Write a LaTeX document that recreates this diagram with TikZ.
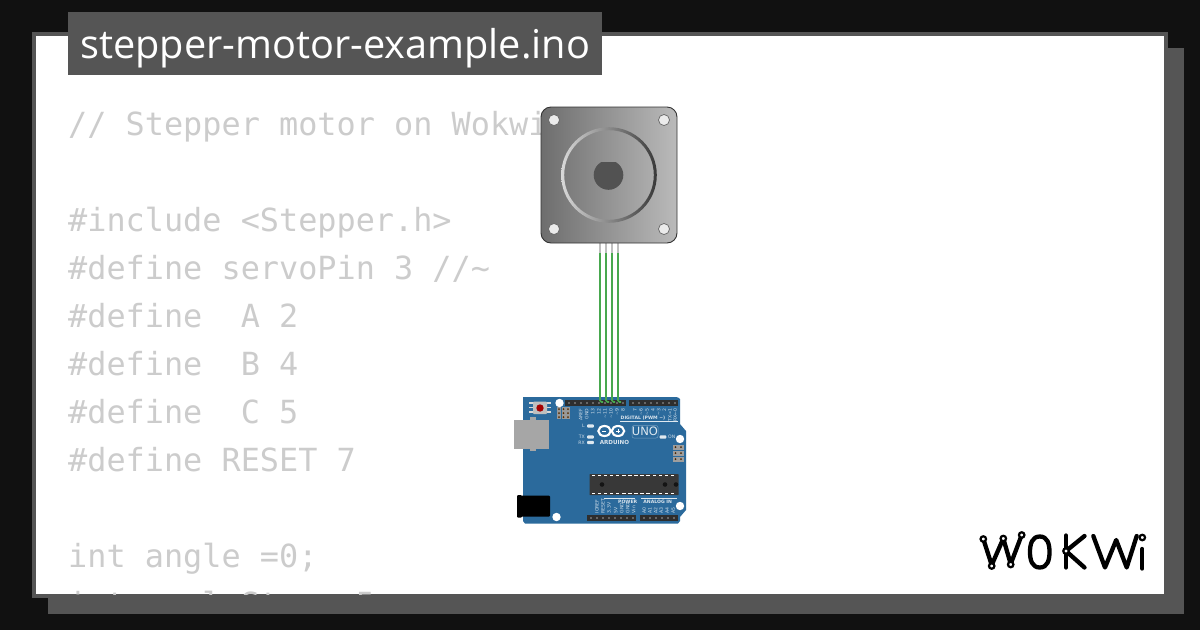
\documentclass[tikz,border=0pt]{standalone}
\usepackage{fontspec}
\setmainfont{Open Sans}
\newfontfamily\codefont{DejaVu Sans Mono}
\newfontfamily\tinyfont{DejaVu Sans}
\definecolor{bgdark}{HTML}{111111}
\definecolor{framegrey}{HTML}{555555}
\definecolor{codegrey}{HTML}{CCCCCC}
\definecolor{boardblue}{HTML}{2B6A9C}
\definecolor{hdr}{HTML}{2E2E2E}
\definecolor{wiregreen}{HTML}{48A84E}
\tikzset{
  codeline/.style={anchor=base west,inner sep=0pt,text=codegrey,font=\codefont\fontsize{31.85}{32}\selectfont},
  silk/.style={inner sep=0pt,text=white!78!boardblue,font=\tinyfont\fontsize{4.6}{5}\selectfont},
  silkb/.style={inner sep=0pt,text=white!82!boardblue,font=\tinyfont\bfseries\fontsize{4.6}{5}\selectfont},
  hole/.style={fill=white,draw=none},
  motorhole/.style={fill=white!92!black,draw=black!60,line width=.7pt},
  wirepath/.style={draw=wiregreen,line width=1.7pt},
  logostroke/.style={draw=black,line width=4.3pt,line cap=round,line join=round},
  logoring/.style={draw=black,fill=white,line width=2.2pt},
  led/.style={fill=white!85!boardblue,rounded corners=.8pt},
}
\begin{document}
\begin{tikzpicture}[x=1pt,y=-1pt]
\useasboundingbox (0,0) rectangle (1200,630);
\fill[bgdark] (0,0) rectangle (1200,630);
\fill[framegrey] (48,48) rectangle (1184,614);
\fill[framegrey] (32,32) rectangle (1168,598);
\fill[white] (36,36) rectangle (1164,594);
% code, clipped by the white sheet
\begin{scope}
\clip (36,36) rectangle (1164,594);
\node[codeline] (c1) at (68,135) {// Stepper motor on Wokwi};
\node[codeline] (c3) at (68,231) {\#include <Stepper.h>};
\node[codeline] (c4) at (68,279) {\#define servoPin 3 //\char`\~};
\node[codeline] (c5) at (68,327) {\#define\ \ A 2};
\node[codeline] (c6) at (68,375) {\#define\ \ B 4};
\node[codeline] (c7) at (68,423) {\#define\ \ C 5};
\node[codeline] (c8) at (68,471) {\#define RESET 7};
\node[codeline] (c10) at (68,567) {int angle =0;};
\node[codeline] (c11) at (68,615) {int angleStep =5;};
\end{scope}
% title
\fill[framegrey] (68,12) rectangle (602,75);
\node[anchor=base west,inner sep=0pt,text=white,font=\fontsize{39.7}{40}\selectfont] (title) at (80,58) {stepper-motor-example.ino};

% motor pins and wires
\foreach \n/\x in {a/600,b/606,c/612,d/618}{
  \coordinate (m\n) at (\x,253);
  \coordinate (p\n) at (\x+3,402);
  \fill[black!25] (\x-1.4,243) rectangle (\x+1.4,254);
}
\foreach \n in {a,b,c,d}{
  \draw[wirepath,rounded corners=1.5pt] (m\n) |- (p\n);
}
% motor
\draw[draw=black!80,line width=.9pt,left color=black!57,right color=black!27,rounded corners=10pt] (541,107) rectangle (677,243);
\foreach \n/\x/\y in {h1/554/120,h2/664/120,h3/554/229,h4/664/229}{
  \node[circle,motorhole,minimum size=11pt,inner sep=0pt] (\n) at (\x,\y) {};
}
\shade[even odd rule,left color=black!15,middle color=black!45,right color=black!78] (609,175) circle (47.8) (609,175) circle (44.8);
\begin{scope}
\clip (590,162) rectangle (630,195);
\fill[black!68] (608.5,175) circle (14.8);
\end{scope}

% board
\fill[boardblue,rounded corners=1.5pt] (523,397) -- (678,397) [sharp corners] -- (680,399) -- (680,424) -- (686,431) -- (686,510) -- (680,517) -- (680,521) -- (678,523.5) -- (525,523.5) -- (523,521) -- cycle;
% USB and barrel
\fill[black!35] (530,417) rectangle (536,451);
\fill[black!35] (514,419.5) rectangle (548.5,448.5);
\fill[black,rounded corners=1pt] (521,495.5) rectangle (550,516.5);
\fill[black,rounded corners=1pt] (517,495) rectangle (522,517.5);
% reset button
\foreach \y in {403,407.5,412}{ \fill[black!15] (528.5,\y-.7) rectangle (534,\y+.7); \fill[black!15] (546,\y-.7) rectangle (551,\y+.7);}
\fill[black!25,rounded corners=1pt] (533,401.5) rectangle (547,414);
\fill[red!65!black] (540,408) circle (3.7);
% ICSP blocks
\foreach \x in {559,563.5,568}\foreach \y in {409,413,417}{
  \fill[black!40] (\x-2,\y-2) rectangle (\x+2,\y+2);
  \fill[black!65!orange] (\x,\y) circle (1);
}
\foreach \x in {675.5,681}\foreach \y in {447,453,459}{
  \fill[black!38] (\x-2.7,\y-2.5) rectangle (\x+2.7,\y+2.5);
  \fill[black!70!orange] (\x,\y) circle (1);
}
% holes
\foreach \n/\x/\y in {b1/559.5/403,b2/680/439,b3/680/506,b4/556.5/517}{
  \node[circle,hole,minimum size=8.4pt,inner sep=0pt] (\n) at (\x,\y) {};
}
% headers
\fill[hdr] (565,400) rectangle (626,406);
\fill[hdr] (629,400) rectangle (678,406);
\fill[hdr] (587,515) rectangle (636,521);
\fill[hdr] (640,515) rectangle (678,521);
\foreach \k in {0,...,9}{\fill[black!60] (568.5+6.05*\k-1,402) rectangle (568.5+6.05*\k+1,404);}
\foreach \k in {0,...,7}{\fill[black!60] (632.5+6.05*\k-1,402) rectangle (632.5+6.05*\k+1,404);}
\foreach \k in {0,...,7}{\fill[black!60] (590.5+6.05*\k-1,517) rectangle (590.5+6.05*\k+1,519);}
\foreach \k in {0,...,5}{\fill[black!60] (643.5+6.05*\k-1,517) rectangle (643.5+6.05*\k+1,519);}
% wires over the header
\foreach \n in {a,b,c,d}{ \draw[wirepath,rounded corners=1.5pt] (m\n |- 0,392) |- (p\n); }
% digital labels
\foreach \n/\x/\t in {d0/580.7/AREF,d1/586.7/GND,d2/592.7/13,d3/599/12,d4/605/\char`\~11,d5/611/\char`\~10,d6/617/\char`\~9,d7/623/8,d8/635/7,d9/641/\char`\~6,d10/647/\char`\~5,d11/653/4,d12/658.7/\char`\~3,d13/664.3/2,d14/670/TX→1,d15/675.3/RX←0}{
  \node[silk,rotate=90,anchor=east] (\n) at (\x,408.5) {\t};
}
\node[silkb,anchor=center] (digi) at (643,418.4) {DIGITAL (PWM \char`\~)};
\fill[white!85!boardblue] (620,421.2) rectangle (678,421.9);
% LEDs
\foreach \n/\x/\y in {l1/590.5/426,l2/590.5/437,l3/590.5/442.5,l4/663/437}{
  \fill[led] (\x-3.4,\y-1.6) rectangle (\x+3.4,\y+1.6);
}
\node[silk,anchor=east] (ll) at (585,426) {L};
\node[silk,anchor=east] (ltx) at (585,437) {TX};
\node[silk,anchor=east] (lrx) at (585,442.5) {RX};
\node[silk,anchor=west] (lon) at (668,437) {ON};
% Arduino logo
\draw[white,line width=2.1pt] (604.5,431) circle[x radius=6.2,y radius=5] (618,431) circle[x radius=6.2,y radius=5];
\fill[white] (602,430.5) rectangle (606,431.5);
\fill[white] (616,430.5) rectangle (620,431.5);
\fill[white] (617.5,429) rectangle (618.5,433);
\draw[white!35!boardblue,line width=.5pt,rounded corners=2pt] (632,425.5) rectangle (658,438);
\node[inner sep=0pt,text=white!85!boardblue,font=\tinyfont\fontsize{11.5}{12}\selectfont] (uno) at (645,431.7) {UNO};
\node[silkb,font=\tinyfont\bfseries\fontsize{5.6}{6}\selectfont,anchor=center] (ard) at (614.5,442.8) {ARDUINO};
% chip
\fill[black!78,rounded corners=.5pt] (589.5,474) rectangle (678.5,495);
\foreach \k in {0,...,13}{
  \fill[white] (591.5+6.1*\k,475.2) rectangle (595+6.1*\k,476.2);
  \fill[white] (591.5+6.1*\k,492.6) rectangle (595+6.1*\k,493.6);
}
\fill[black!92] (602,484.5) circle (2.3) (665,484.5) circle (2.3);
\fill[black!92] (676,484.5) circle (2.3);
% power labels
\foreach \n/\x/\t in {q0/597/IOREF,q1/603/RESET,q2/609/3.3V,q3/615.6/5V,q4/621.7/GND,q5/627.7/GND,q6/633.7/Vin,q7/644.3/A0,q8/650/A1,q9/655.7/A2,q10/661.3/A3,q11/667.3/A4,q12/673.3/A5}{
  \node[silk,rotate=90,anchor=west] (\n) at (\x,513.5) {\t};
}
\node[silkb] (pow) at (627.7,502) {POWER};
\node[silkb] (ana) at (657.7,502) {ANALOG IN};
\fill[white!85!boardblue] (604,498) rectangle (635,498.6);
\fill[white!85!boardblue] (641,498) rectangle (677,498.6);

% Wokwi logo
\draw[logostroke] (983.3,539) -- (991.7,565) -- (1003.3,538.5) -- (1010.7,564) -- (1021.7,535);
\draw[logostroke] (1039.8,536.5) .. controls (1047.5,536.5) and (1049.5,544) .. (1049.5,552)
  .. controls (1049.5,560) and (1047.5,567.5) .. (1039.8,567.5)
  .. controls (1032,567.5) and (1030,560) .. (1030,552)
  .. controls (1030,544) and (1032,536.5) .. (1039.8,536.5) -- cycle;
\draw[logostroke] (1066,535.5) -- (1066,567.5);
\draw[logostroke] (1084.5,536) -- (1066,551) -- (1084.5,567.5);
\draw[logostroke] (1093.3,536) -- (1105,567.5) -- (1116.2,540) -- (1126.7,567.5) -- (1136.7,536);
\draw[logostroke] (1142.3,549) -- (1142.3,568.5);
\foreach \n/\x/\y in {r1/983.3/539,r2/991.7/566,r3/1003.3/538.5,r4/1010.7/564.5,r5/1021.7/535,r6/1066/551,r7/1142.3/537.5}{
  \node[circle,logoring,minimum size=5.5pt,inner sep=0pt] (\n) at (\x,\y) {};
}
\end{tikzpicture}
\end{document}
